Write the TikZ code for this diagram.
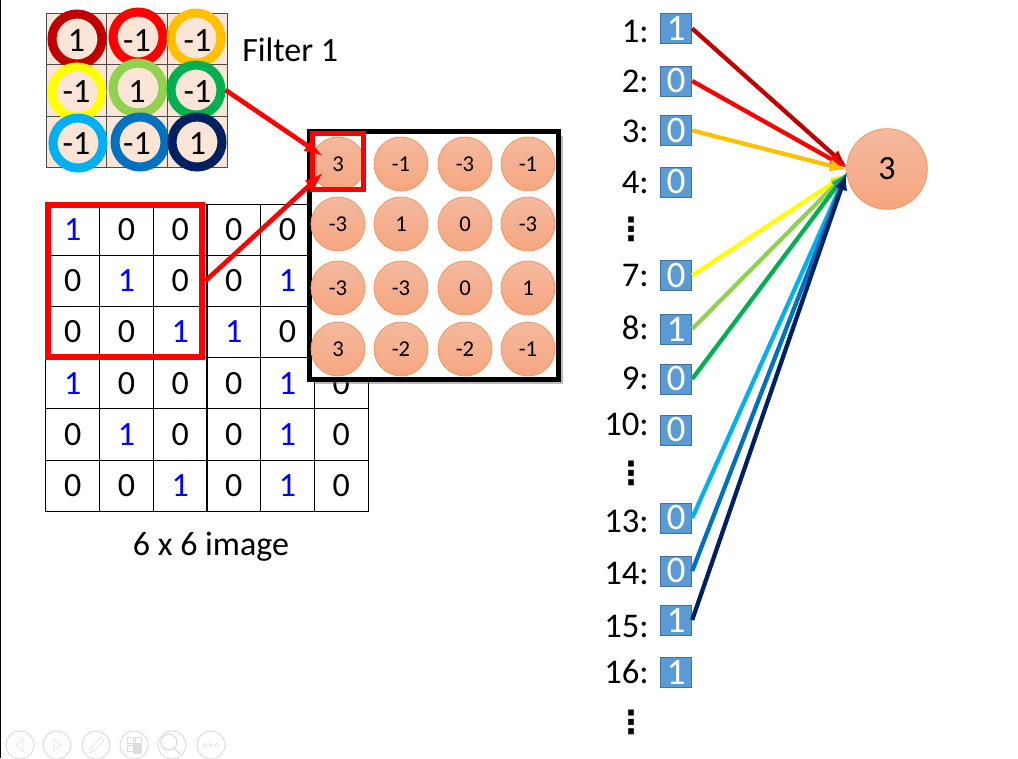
\documentclass[tikz,border=0pt]{standalone}
\usepackage{fontspec}
\setmainfont{Carlito}
\newfontfamily\dotsfont{DejaVu Sans Bold}
\usetikzlibrary{shadows}
\definecolor{cellfill}{HTML}{FBE5D6}
\definecolor{ringA}{HTML}{C00000}
\definecolor{ringB}{HTML}{FF0000}
\definecolor{ringC}{HTML}{FFC000}
\definecolor{ringD}{HTML}{FFFF00}
\definecolor{ringE}{HTML}{92D050}
\definecolor{ringF}{HTML}{00B050}
\definecolor{ringG}{HTML}{00B0F0}
\definecolor{ringH}{HTML}{0070C0}
\definecolor{ringI}{HTML}{002060}
\definecolor{boxblue}{HTML}{5B9BD5}
\definecolor{boxedge}{HTML}{41719C}
\definecolor{uigray}{HTML}{DDDDDD}
\definecolor{convtop}{HTML}{F4B99E}
\definecolor{convbottom}{HTML}{F6A680}
\definecolor{convedge}{HTML}{ED9A62}
\tikzset{
  big text/.style={font=\fontsize{25.5}{30}\selectfont},
  small text/.style={font=\fontsize{17}{20}\selectfont},
  filter cell/.style={rectangle,draw=black!70,fill=cellfill,line width=.9pt,
    minimum width=45.4pt,minimum height=38.5pt,inner sep=0pt},
  ring/.style={circle,line width=6.75pt,minimum size=37.5pt,inner sep=0pt},
  image cell/.style={rectangle,draw=black,line width=.75pt,
    minimum width=40.25pt,minimum height=38.4pt,inner sep=0pt,big text},
  conv node/.style={circle,draw=convedge,line width=.6pt,
    top color=convtop,bottom color=convbottom,
    minimum size=40.5pt,inner sep=0pt},
  value box/.style={rectangle,draw=boxedge,fill=boxblue,line width=.75pt,text=white,
    minimum width=23.5pt,minimum height=22.5pt,inner sep=0pt,font=\fontsize{28}{30}\selectfont},
  index label/.style={anchor=east,inner sep=0pt,font=\fontsize{26}{30}\selectfont},
  red arrow/.style={->,>=latex,draw=red,line width=3.5pt},
  weight/.style={->,>=latex,line width=3.2pt},
}

\begin{document}
\begin{tikzpicture}[x=.75pt,y=-.75pt]
  \useasboundingbox (0,0) rectangle (1018,758);
  \draw[line width=.75pt] (.5,0) -- (.5,758);

  % filter
  \foreach \c/\x in {1/76.5,2/137,3/197.5}
    \foreach \r/\y in {1/39.5,2/90.5,3/142}
      \node[filter cell] (f\r\c) at (\x,\y) {};
  \node[ring,draw=ringA] (r1) at (77,39) {};
  \node[ring,draw=ringB] (r2) at (138,37) {};
  \node[ring,draw=ringC] (r3) at (196,38) {};
  \node[ring,draw=ringD] (r4) at (77,92) {};
  \node[ring,draw=ringE] (r5) at (138,88) {};
  \node[ring,draw=ringF] (r6) at (196,90) {};
  \node[ring,draw=ringG] (r7) at (78,143) {};
  \node[ring,draw=ringH] (r8) at (140,142) {};
  \node[ring,draw=ringI] (r9) at (197,142) {};
  \foreach \r/\c/\v in {1/1/1,1/2/-1,1/3/-1,2/1/-1,2/2/1,2/3/-1,3/1/-1,3/2/-1,3/3/1}
    \node[big text,yshift=-1pt] at (f\r\c) {\v};
  \node[big text,anchor=west,inner sep=0pt] (title) at (242,50) {Filter 1};

  % image
  \foreach \c/\x in {1/72.8,2/126.5,3/180.2,4/233.8,5/287.5,6/341.2}
    \foreach \r/\y in {1/229.6,2/280.8,3/332,4/383.2,5/434.4,6/485.6}
      \node[image cell] (g\r\c) at (\x,\y) {};
  \foreach \r/\c in {1/2,1/3,1/4,1/5,2/1,2/3,2/4,3/1,3/2,3/5,4/2,4/3,4/4,4/6,5/1,5/3,5/4,5/6,6/1,6/2,6/4,6/6}
    \node[big text] at (g\r\c) {0};
  \foreach \r/\c in {1/1,2/2,2/5,3/3,3/4,4/1,4/5,5/2,5/5,6/3,6/5}
    \node[big text,text=blue] at (g\r\c) {1};
  \node[big text] (caption) at (211,547) {6 x 6 image};
  \node[draw=red,line width=4.5pt,minimum width=116pt,minimum height=113.5pt] (window) at (125,281) {};

  % convolution result
  \node[draw=black,fill=white,line width=3.75pt,minimum width=187pt,minimum height=186pt,
    drop shadow={shadow xshift=3.6pt,shadow yshift=-3.6pt,opacity=.45,fill=black!60}] (result) at (434,255.5) {};
  \foreach \r/\y/\va/\vb/\vc/\vd in {1/164/3/-1/-3/-1,2/224/-3/1/0/-3,3/288/-3/-3/0/1,4/349/3/-2/-2/-1}{
    \node[conv node,small text] (c\r1) at (338,\y) {\va};
    \node[conv node,small text] (c\r2) at (401,\y) {\vb};
    \node[conv node,small text] (c\r3) at (465,\y) {\vc};
    \node[conv node,small text] (c\r4) at (528,\y) {\vd};
  }
  \node[draw=red,line width=3.4pt,minimum width=38.5pt,minimum height=42pt] (hit) at (338,161.5) {};
  \draw[red arrow,shorten >=-7pt] (r6.east) -- (c11.150);
  \draw[red arrow,shorten >=-7pt] (window.east) -- (c11.215);

  % flattened input
  \foreach \n/\y/\ly/\v in {1/28.5/31/1,2/81/81/0,3/130.5/131/0,4/182/182/0,7/275.5/276/0,8/329/328/1,9/379/378/0,
      10/430/424/0,13/518/521/0,14/571/573/0,15/620/626/1,16/672/672/1}{
    \node[value box] (b\n) at (676,\y) {\v};
    \node[index label] (l\n) at (649,\ly) {\n:};
  }
  \foreach \y/\name in {229/d1,473/d2,722/d3}
    \node[inner sep=0pt,font=\dotsfont\fontsize{24}{28}\selectfont] (\name) at (631,\y) {⋮};

  \node[conv node,big text,minimum size=60.5pt] (out) at (887,169) {\raisebox{-1.5pt}{3}};

  \foreach \n/\ang/\col in {1/176/ringA,2/178/ringB,3/181/ringC,7/187/ringD,8/186/ringE,9/186/ringF,13/186/ringG,14/186/ringH,15/186/ringI}
    \draw[weight,draw=\col] (b\n.east) -- (out.\ang);

  % slide show controls
  \foreach \x/\name in {20/u1,57/u2,96/u3,134/u4,172/u5,211/u6}
    \node[circle,draw=uigray,line width=.75pt,minimum size=21pt,inner sep=0pt] (\name) at (\x,745) {};
  \draw[uigray] (23,739) -- (16,745) -- (23,751) -- cycle;
  \draw[uigray] (54,739) -- (61,745) -- (54,751) -- cycle;
  \draw[uigray] (90,753) -- (92,747) -- (101,737) -- (104,740) -- (95,750) -- cycle;
  \draw[uigray] (127,737) rectangle (133,743) (135,737) rectangle (141,743) (127,745) rectangle (133,751);
  \fill[uigray] (133,743) rectangle (142,754);
  \draw[uigray,line width=1pt] (169,742) circle (6pt) (173,747) -- (180,754);
  \draw[uigray] (205,745) circle (1.4pt) (211,745) circle (1.4pt) (217,745) circle (1.4pt);
\end{tikzpicture}
\end{document}
